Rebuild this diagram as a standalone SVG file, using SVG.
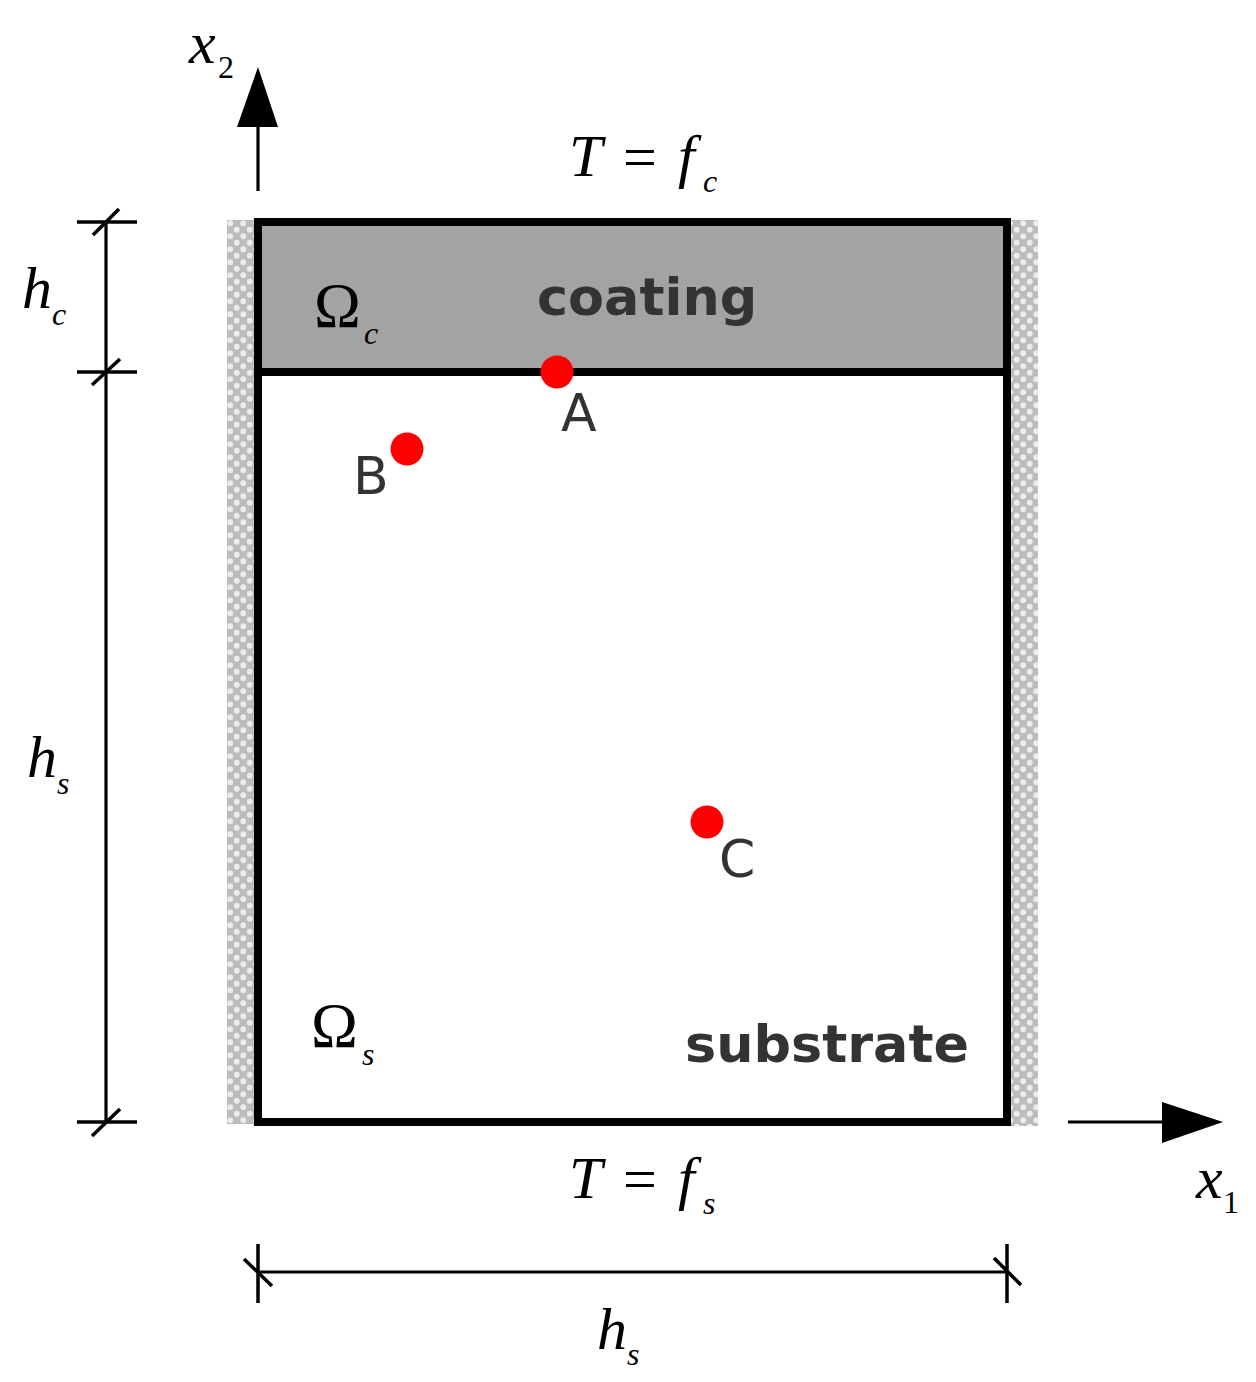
<svg xmlns="http://www.w3.org/2000/svg" width="1256" height="1382" viewBox="0 0 1256 1382">
<style>
.m{font-family:"Liberation Serif","Times New Roman",serif;font-style:italic;fill:#000}
.r{font-family:"Liberation Serif","Times New Roman",serif;fill:#000}
.big{font-size:60px}
.sub{font-size:32px}
.pt{font-family:"DejaVu Sans",sans-serif;font-size:52px;fill:#333}
.lb{font-family:"DejaVu Sans",sans-serif;font-size:52.4px;font-weight:700;fill:#333}
.dim{stroke:#000;stroke-width:3.2;fill:none}
.tick{stroke:#000;stroke-width:3.5;fill:none}
.dot{fill:#f00}
</style>
<defs>
<pattern id="h" width="13" height="13" patternUnits="userSpaceOnUse" x="227" y="220">
<rect width="13" height="13" fill="#bcbcbc"/>
<circle cx="3.25" cy="3.25" r="2.9" fill="#ececec"/>
<circle cx="9.75" cy="9.75" r="2.9" fill="#ececec"/>
</pattern>
</defs>
<rect width="1256" height="1382" fill="#fff"/>
<g id="walls">
<rect x="227" y="220" width="28" height="904" fill="url(#h)"/>
<rect x="1010" y="220" width="28" height="906" fill="url(#h)"/>
</g>
<g id="coating">
<rect x="258" y="222" width="749" height="150" fill="#a3a3a3"/>
<text class="lb" x="537" y="315">coating</text>
<text class="r" font-size="63" x="314" y="327">Ω</text>
<text class="m sub" x="364" y="344">c</text>
</g>
<g id="substrate">
<rect x="258" y="372" width="749" height="750" fill="#fff"/>
<text class="lb" x="685" y="1062">substrate</text>
<text class="r" font-size="63" x="311" y="1047">Ω</text>
<text class="m sub" x="362" y="1065">s</text>
</g>
<g id="frame" fill="none" stroke="#000" stroke-width="8">
<rect x="258" y="222" width="749" height="900"/>
<line x1="258" y1="372" x2="1007" y2="372"/>
</g>
<g id="connectors">
<g id="axis-x2">
<line class="dim" x1="258" y1="191" x2="258" y2="125"/>
<polygon points="258,67 278,127 237,127" fill="#000"/>
</g>
<g id="axis-x1">
<line class="dim" x1="1068" y1="1122" x2="1165" y2="1122"/>
<polygon points="1223,1122 1162,1102 1162,1143" fill="#000"/>
</g>
<g id="dim-left">
<line class="dim" x1="106" y1="222" x2="106" y2="1122"/>
<line class="tick" x1="77" y1="222" x2="137" y2="222"/>
<line class="tick" x1="77" y1="372" x2="137" y2="372"/>
<line class="tick" x1="77" y1="1122" x2="137" y2="1122"/>
<line class="tick" x1="93" y1="235" x2="119" y2="209"/>
<line class="tick" x1="92" y1="385" x2="120" y2="359"/>
<line class="tick" x1="92" y1="1136" x2="120" y2="1109"/>
</g>
<g id="dim-bottom">
<line class="dim" x1="258" y1="1272" x2="1007" y2="1272"/>
<line class="tick" x1="258" y1="1244" x2="258" y2="1303"/>
<line class="tick" x1="1007" y1="1244" x2="1007" y2="1303"/>
<line class="tick" x1="244" y1="1259" x2="272" y2="1286"/>
<line class="tick" x1="994" y1="1258" x2="1021" y2="1285"/>
</g>
</g>
<g id="point-A"><circle class="dot" cx="557" cy="372" r="16.5"/><text class="pt" x="561" y="431">A</text></g>
<g id="point-B"><circle class="dot" cx="407" cy="449" r="16.5"/><text class="pt" x="353" y="494">B</text></g>
<g id="point-C"><circle class="dot" cx="707" cy="822" r="16.5"/><text class="pt" x="719" y="877">C</text></g>
<g id="label-x2"><text class="m big" x="189" y="63">x</text><text class="r sub" x="218" y="78">2</text></g>
<g id="label-x1"><text class="m big" x="1196" y="1198">x</text><text class="r sub" x="1223" y="1213">1</text></g>
<g id="label-hc"><text class="m big" x="22" y="308">h</text><text class="m sub" x="52" y="325">c</text></g>
<g id="label-hs-left"><text class="m big" x="27" y="777">h</text><text class="m sub" x="57" y="794">s</text></g>
<g id="label-hs-bottom"><text class="m big" x="597" y="1349">h</text><text class="m sub" x="627" y="1365">s</text></g>
<g id="label-top"><text class="m big" x="569" y="176">T</text><text class="r big" x="623" y="177">=</text><text class="m big" x="678" y="176">f</text><text class="m sub" x="703" y="192">c</text></g>
<g id="label-bottom"><text class="m big" x="569" y="1198">T</text><text class="r big" x="623" y="1199">=</text><text class="m big" x="678" y="1198">f</text><text class="m sub" x="703" y="1214">s</text></g>
</svg>
